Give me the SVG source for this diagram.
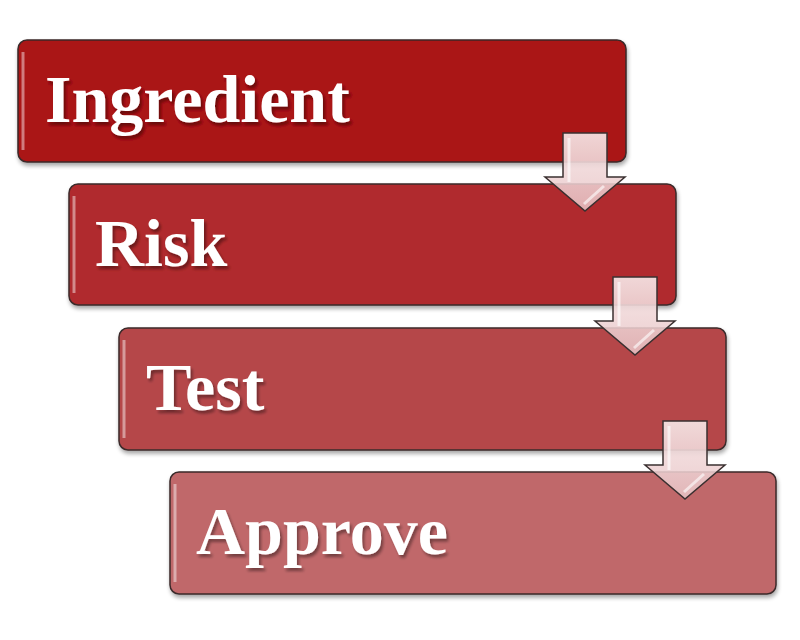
<svg xmlns="http://www.w3.org/2000/svg" width="800" height="640" viewBox="0 0 800 640">
<style>
.box{stroke:#3a2a2a;stroke-width:1.5}
.hl{fill:none;stroke:#ffffff;stroke-opacity:0.45;stroke-width:3}
.lbl{font-family:"Liberation Serif","Times New Roman",serif;font-weight:bold;font-size:68px;fill:#ffffff;filter:url(#ts)}
.arr{fill:url(#ag);stroke:#3a3030;stroke-width:1.5;stroke-linejoin:miter}
.arrhl{fill:none;stroke:#ffffff;stroke-opacity:0.6;stroke-width:3}
</style>
<defs>
<filter id="sh" x="-5%" y="-10%" width="110%" height="130%">
<feGaussianBlur in="SourceAlpha" stdDeviation="2"/>
<feOffset dx="1" dy="3"/>
<feComponentTransfer><feFuncA type="linear" slope="0.35"/></feComponentTransfer>
<feMerge><feMergeNode/><feMergeNode in="SourceGraphic"/></feMerge>
</filter>
<filter id="ts" x="-5%" y="-10%" width="110%" height="130%">
<feGaussianBlur in="SourceAlpha" stdDeviation="1.5"/>
<feOffset dx="2" dy="3"/>
<feComponentTransfer><feFuncA type="linear" slope="0.4"/></feComponentTransfer>
<feMerge><feMergeNode/><feMergeNode in="SourceGraphic"/></feMerge>
</filter>
<linearGradient id="ag" x1="0" y1="0" x2="0" y2="1">
<stop offset="0" stop-color="#f6e6e6" stop-opacity="0.92"/>
<stop offset="1" stop-color="#e8c4c6" stop-opacity="0.85"/>
</linearGradient>
</defs>
<rect width="800" height="640" fill="#ffffff"/>

<g id="node-ingredient" filter="url(#sh)">
<rect class="box" x="18" y="40" width="608" height="122" rx="9" fill="#aa1214"/>
<path class="hl" d="M23 52 V150"/>
<text class="lbl" x="45" y="122">Ingredient</text>
</g>
<g id="node-risk" filter="url(#sh)">
<rect class="box" x="69" y="184" width="607" height="121" rx="9" fill="#b02a2d"/>
<path class="hl" d="M74 196 V293"/>
<text class="lbl" x="95" y="266">Risk</text>
</g>
<g id="node-test" filter="url(#sh)">
<rect class="box" x="119" y="328" width="607" height="122" rx="9" fill="#b5474a"/>
<path class="hl" d="M124 340 V438"/>
<text class="lbl" x="146" y="410">Test</text>
</g>
<g id="node-approve" filter="url(#sh)">
<rect class="box" x="170" y="472" width="606" height="122" rx="9" fill="#c0686a"/>
<path class="hl" d="M175 484 V582"/>
<text class="lbl" x="196" y="554">Approve</text>
</g>

<g id="connectors">
<g>
<path class="arr" d="M563 133 H607 V177 H625 L585 211 L545 177 H563 Z"/>
<path class="arrhl" d="M569 138 V182 M584 204 L604 186"/>
</g>
<g>
<path class="arr" d="M613 277 H657 V321 H675 L635 355 L595 321 H613 Z"/>
<path class="arrhl" d="M619 282 V326 M634 348 L654 330"/>
</g>
<g>
<path class="arr" d="M663 421 H707 V465 H725 L685 499 L645 465 H663 Z"/>
<path class="arrhl" d="M669 426 V470 M684 492 L704 474"/>
</g>
</g>
</svg>
